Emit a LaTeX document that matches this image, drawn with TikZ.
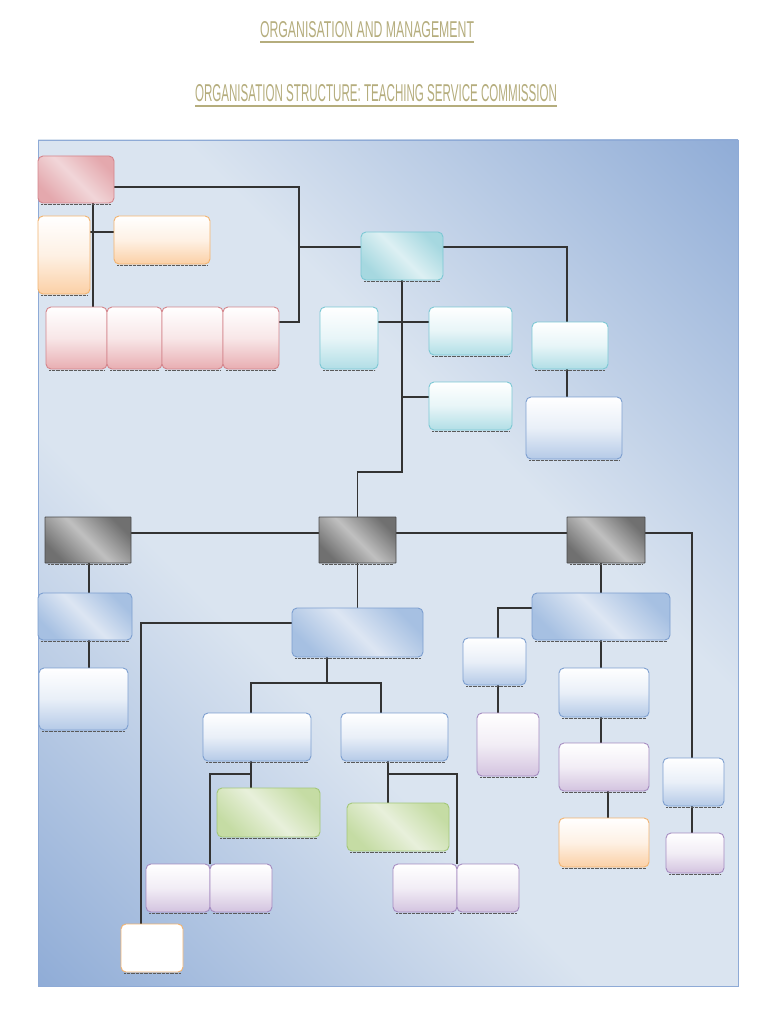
\documentclass[tikz,border=0pt]{standalone}
\usepackage{graphicx}
\usepackage{fontspec}
\setsansfont{Liberation Sans}
\definecolor{bgdark}{HTML}{8EABD6}
\definecolor{bglight}{HTML}{DAE4F0}
\definecolor{frameln}{HTML}{8EAAD6}
\definecolor{connc}{HTML}{333333}
\definecolor{titlec}{HTML}{B5AD7D}
\definecolor{redb}{HTML}{D4858C}
\definecolor{redt}{HTML}{E8AEB2}
\definecolor{redd}{HTML}{E4A8AD}
\definecolor{redl}{HTML}{F1D6D8}
\definecolor{orb}{HTML}{F2B36F}
\definecolor{ort}{HTML}{FBD0A6}
\definecolor{cyb}{HTML}{7CC8D4}
\definecolor{cyt}{HTML}{B1DEE6}
\definecolor{cyd}{HTML}{A6D8E0}
\definecolor{cyl}{HTML}{DDF0F3}
\definecolor{blb}{HTML}{7D9FD0}
\definecolor{blt}{HTML}{B5CAE7}
\definecolor{bld}{HTML}{A6C0E2}
\definecolor{bll}{HTML}{DDE6F3}
\definecolor{pub}{HTML}{A58BC0}
\definecolor{put}{HTML}{D3C3DF}
\definecolor{grb}{HTML}{A3C779}
\definecolor{grd}{HTML}{C5DCA4}
\definecolor{grl}{HTML}{E8F0DB}
\definecolor{gyb}{HTML}{4A4A4A}
\definecolor{gyd}{HTML}{707070}
\definecolor{gyl}{HTML}{C0C0C0}
\definecolor{shadc}{HTML}{5A5A5A}
\pgfdeclareverticalshading{bgsh}{100bp}{color(0bp)=(bgdark); color(14bp)=(bgdark); color(40bp)=(bglight); color(60bp)=(bglight); color(86bp)=(bgdark); color(100bp)=(bgdark)}
\pgfdeclarelayer{back}
\pgfdeclarelayer{lines}
\pgfsetlayers{back,lines,main}
\tikzset{
  box/.style={inner sep=0pt, outer sep=0pt, rounded corners=5pt, line width=0.9pt},
  vgrad/.style 2 args={box, draw=#1, top color=white, bottom color=#2, middle color=#2!30!white},
  gloss/.style n args={3}{box, draw=#1, top color=#2, bottom color=#2, middle color=#3, shading angle=-45},
  vred/.style={vgrad={redb}{redt}},
  vor/.style={vgrad={orb}{ort}},
  vcyan/.style={vgrad={cyb}{cyt}},
  vblue/.style={vgrad={blb}{blt}},
  vpur/.style={vgrad={pub}{put}},
  gred/.style={gloss={redb}{redd}{redl}},
  gcyan/.style={gloss={cyb}{cyd}{cyl}},
  gblue/.style={gloss={blb}{bld}{bll}},
  ggreen/.style={gloss={grb}{grd}{grl}},
  ggrey/.style={gloss={gyb}{gyd}{gyl}, rounded corners=0.5pt},
  wor/.style={box, draw=orb, fill=white},
  shadowln/.style={draw=shadc, line width=1.3pt, dash pattern=on 0.7pt off 0.6pt},
  conn/.style={draw=connc, line width=1.3pt},
  titleln/.style={draw=titlec, line width=1.4pt},
  titletext/.style={inner sep=0pt, outer sep=0pt, text=titlec, anchor=base west}
}
\newcommand\bx[6]{%
  \node[#1, minimum width={(#5-#3)*1pt}, minimum height={(#6-#4)*1pt}] (#2) at ({(#3+#5)/2},{(#4+#6)/2}) {};
  \draw[shadowln] ([xshift=3pt,yshift=-1.3pt]#2.south west) -- ([xshift=-3pt,yshift=-1.3pt]#2.south east);}
\begin{document}
\begin{tikzpicture}[x=1pt,y=-1pt]
\useasboundingbox (0,0) rectangle (768,1024);
% titles
\node[titletext] (t1) at (260,38) {\resizebox{214pt}{16pt}{\sffamily ORGANISATION AND MANAGEMENT}};
\draw[titleln] ([yshift=-4pt]t1.base west) -- ([yshift=-4pt]t1.base east);
\node[titletext] (t2) at (195,102) {\resizebox{362pt}{17pt}{\sffamily ORGANISATION STRUCTURE: TEACHING SERVICE COMMISSION}};
\draw[titleln] ([yshift=-4pt]t2.base west) -- ([yshift=-4pt]t2.base east);
% background
\begin{pgfonlayer}{back}
\shade[shading=bgsh, shading angle=-45] (38,140) rectangle (738,986);
\draw[frameln, line width=0.9pt] (38,140) rectangle (738,986);
\end{pgfonlayer}
% boxes
\bx{gred}{R1}{38}{156}{114}{203}
\bx{vor}{O1}{38}{216}{90}{294}
\bx{vor}{O2}{114}{216}{210}{264}
\bx{vred}{Ra}{46}{307}{107}{369}
\bx{vred}{Rb}{107}{307}{162}{369}
\bx{vred}{Rc}{162}{307}{223}{369}
\bx{vred}{Rd}{223}{307}{279}{369}
\bx{gcyan}{C1}{361}{232}{443}{280}
\bx{vcyan}{C2}{320}{307}{378}{369}
\bx{vcyan}{C3}{429}{307}{512}{355}
\bx{vcyan}{C5}{429}{382}{512}{430}
\bx{vcyan}{C4}{532}{322}{608}{369}
\bx{vblue}{B0}{526}{397}{622}{459}
\bx{ggrey}{G1}{45}{517}{131}{563}
\bx{ggrey}{G2}{319}{517}{396}{563}
\bx{ggrey}{G3}{567}{517}{645}{563}
\bx{gblue}{B1}{38}{593}{132}{640}
\bx{vblue}{B2}{39}{668}{128}{730}
\bx{gblue}{B3}{292}{608}{423}{657}
\bx{vblue}{B4}{203}{713}{311}{761}
\bx{vblue}{B5}{341}{713}{448}{761}
\bx{ggreen}{Gr1}{217}{788}{320}{837}
\bx{ggreen}{Gr2}{347}{803}{449}{851}
\bx{vpur}{P1}{146}{864}{210}{912}
\bx{vpur}{P2}{210}{864}{272}{912}
\bx{vpur}{P3}{393}{864}{457}{912}
\bx{vpur}{P4}{457}{864}{519}{912}
\bx{wor}{OW}{121}{924}{183}{972}
\bx{gblue}{B6}{532}{593}{670}{640}
\bx{vblue}{B7}{463}{638}{526}{685}
\bx{vpur}{P5}{477}{713}{539}{776}
\bx{vblue}{B8}{559}{668}{649}{717}
\bx{vpur}{P6}{559}{743}{649}{791}
\bx{vor}{OR2}{559}{818}{649}{867}
\bx{vblue}{B9}{663}{758}{724}{806}
\bx{vpur}{P7}{666}{833}{724}{873}
% junctions
\coordinate (jA) at (299,187);
\coordinate (jB) at (299,322);
\coordinate (jC) at (299,247);
\coordinate (jD) at (93,232);
\coordinate (jH) at (567,247);
\coordinate (jE) at (402,472);
\coordinate (jG) at (402,322);
\coordinate (jL) at (402,397);
\coordinate (jI) at (0,533);
\coordinate (jJ) at (692,533);
\coordinate (jK) at (141,623);
\coordinate (jN) at (327,683);
\coordinate (jN1) at (251,683);
\coordinate (jN2) at (381,683);
\coordinate (jP) at (251,774);
\coordinate (jP1) at (210,774);
\coordinate (jQ) at (388,774);
\coordinate (jQ1) at (457,774);
\coordinate (jR) at (601,0);
\coordinate (jS) at (498,608);
\coordinate (jT) at (608,0);
\coordinate (jU) at (89,0);
% connectors
\begin{pgfonlayer}{lines}
\draw[conn] (R1.east |- jA) -- (jA) -- (jB) -- (jB -| Rd.east);
\draw[conn] (jC) -- (jC -| C1.west);
\draw[conn] (jD |- R1.south) -- (jD |- Ra.north);
\draw[conn] (O1.east |- jD) -- (jD -| O2.west);
\draw[conn] (C1.east |- jH) -- (jH) -- (jH |- C4.north);
\draw[conn] (jH |- C4.south) -- (jH |- B0.north);
\draw[conn] (C1.south) -- (jE) -- (jE -| G2.north) -- (G2.north);
\draw[conn] (C2.east |- jG) -- (jG -| C3.west);
\draw[conn] (jL) -- (jL -| C5.west);
\draw[conn] (G1.east |- jI) -- (G2.west |- jI);
\draw[conn] (G2.east |- jI) -- (G3.west |- jI);
\draw[conn] (G3.east |- jJ) -- (jJ) -- (jJ |- B9.north);
\draw[conn] (B9.south -| jJ) -- (P7.north -| jJ);
\draw[conn] (G1.south -| jU) -- (B1.north -| jU);
\draw[conn] (B1.south -| jU) -- (B2.north -| jU);
\draw[conn] (G2.south) -- (G2.south |- B3.north);
\draw[conn] (B3.west |- jK) -- (jK) -- (jK |- OW.north);
\draw[conn] (jN |- B3.south) -- (jN);
\draw[conn] (jN1 |- B4.north) -- (jN1) -- (jN2) -- (jN2 |- B5.north);
\draw[conn] (jP |- B4.south) -- (jP |- Gr1.north);
\draw[conn] (jP) -- (jP1) -- (jP1 |- P1.north);
\draw[conn] (jQ |- B5.south) -- (jQ |- Gr2.north);
\draw[conn] (jQ) -- (jQ1) -- (jQ1 |- P3.north);
\draw[conn] (G3.south -| jR) -- (B6.north -| jR);
\draw[conn] (B6.west |- jS) -- (jS) -- (jS |- B7.north);
\draw[conn] (jS |- B7.south) -- (jS |- P5.north);
\draw[conn] (B6.south -| jR) -- (B8.north -| jR);
\draw[conn] (B8.south -| jR) -- (P6.north -| jR);
\draw[conn] (P6.south -| jT) -- (OR2.north -| jT);
\end{pgfonlayer}
\end{tikzpicture}
\end{document}
